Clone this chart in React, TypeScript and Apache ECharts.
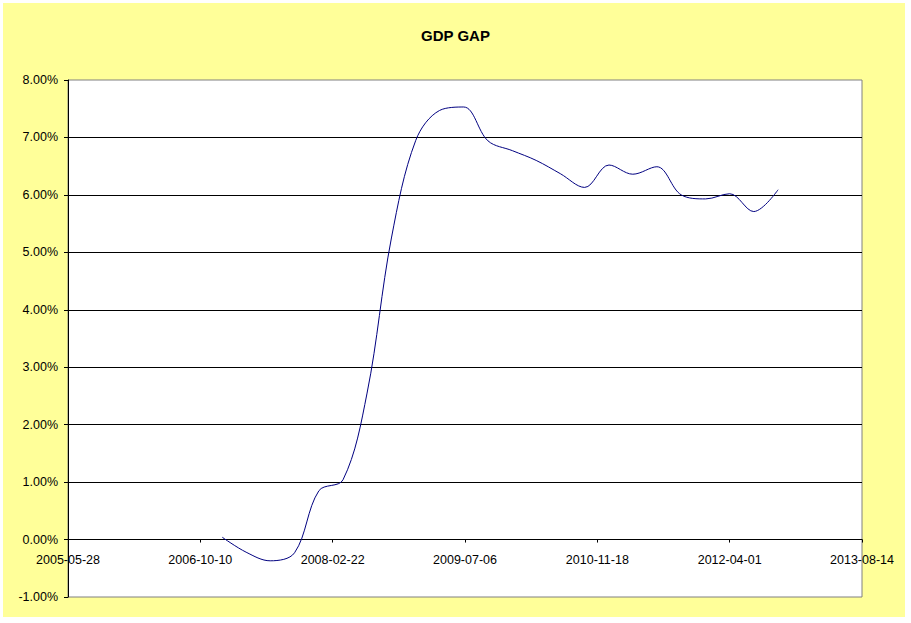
import React, { useEffect, useRef } from 'react';
import * as echarts from 'echarts';

// quarterly observations (start of quarter)
const quarters: string[] = [
    '2007-01-01', '2007-04-01', '2007-07-01', '2007-10-01',
    '2008-01-01', '2008-04-01', '2008-07-01', '2008-10-01',
    '2009-01-01', '2009-04-01', '2009-07-01', '2009-10-01',
    '2010-01-01', '2010-04-01', '2010-07-01', '2010-10-01',
    '2011-01-01', '2011-04-01', '2011-07-01', '2011-10-01',
    '2012-01-01', '2012-04-01', '2012-07-01', '2012-10-01',
];

// GDP gap, percent
const gdpGap: number[] = [
    0.04, -0.22, -0.37, -0.23,
    0.85, 1.04, 2.55, 5.25,
    6.95, 7.47, 7.53, 6.94,
    6.77, 6.6, 6.37, 6.13,
    6.52, 6.36, 6.49, 6.0,
    5.93, 6.02, 5.71, 6.09,
];

// x axis runs on Excel date serials, every 500 days
const xMin = 38500; // 2005-05-28
const xMax = 41500; // 2013-08-14
const xStep = 500;

const yMin = -1;
const yMax = 8;
const yStep = 1;

const EXCEL_EPOCH = Date.UTC(1899, 11, 30);
const DAY = 86400000;

const toSerial = (iso: string) => {
    const [y, m, d] = iso.split('-').map(Number);
    return Math.round((Date.UTC(y, m - 1, d) - EXCEL_EPOCH) / DAY);
};

const fromSerial = (serial: number) => {
    const dt = new Date(EXCEL_EPOCH + serial * DAY);
    const mm = String(dt.getUTCMonth() + 1).padStart(2, '0');
    const dd = String(dt.getUTCDate()).padStart(2, '0');
    return `${dt.getUTCFullYear()}-${mm}-${dd}`;
};

const FONT = 'Arial, "Liberation Sans", sans-serif';

const GRID_H = 517;

const App: React.FC = () => {
    const chartRef = useRef<HTMLDivElement>(null);

    useEffect(() => {
        const chartDom = chartRef.current!;
        const myChart = echarts.init(chartDom, undefined, { renderer: 'svg' });

        // the date axis crosses the value axis at 0
        const zeroOffset = -(GRID_H * (0 - yMin)) / (yMax - yMin);

        const option: echarts.EChartsOption = {
            animation: false,
            backgroundColor: '#ffffff',
            graphic: [
                {
                    type: 'rect',
                    z: -10,
                    silent: true,
                    shape: { x: 3, y: 3, width: 902, height: 614 },
                    style: { fill: '#FFFF99' },
                },
            ],
            title: {
                text: 'GDP GAP',
                left: 'center',
                top: 23,
                textStyle: { fontFamily: FONT, fontSize: 15, fontWeight: 'bold', color: '#000' },
            },
            grid: {
                left: 68,
                top: 80,
                width: 794,
                height: GRID_H,
                show: true,
                backgroundColor: '#ffffff',
                borderColor: '#808080',
                borderWidth: 1,
            },
            xAxis: {
                type: 'value',
                min: xMin,
                max: xMax,
                interval: xStep,
                offset: zeroOffset,
                axisLine: { show: true, onZero: false, lineStyle: { color: '#000', width: 1 } },
                axisTick: { show: true, length: 3, lineStyle: { color: '#000' } },
                splitLine: { show: false },
                axisLabel: {
                    color: '#000',
                    fontFamily: FONT,
                    fontSize: 12.5,
                    margin: 14,
                    showMinLabel: true,
                    showMaxLabel: true,
                    formatter: (v: number) => fromSerial(v),
                },
            },
            yAxis: {
                type: 'value',
                min: yMin,
                max: yMax,
                interval: yStep,
                axisLine: { show: true, lineStyle: { color: '#000', width: 1 } },
                axisTick: { show: true, length: 4, lineStyle: { color: '#000' } },
                splitLine: {
                    show: true,
                    showMinLine: false,
                    showMaxLine: false,
                    lineStyle: { color: '#000', width: 1 },
                },
                axisLabel: {
                    color: '#000',
                    fontFamily: FONT,
                    fontSize: 12.5,
                    margin: 10,
                    formatter: (v: number) => v.toFixed(2) + '%',
                },
            },
            series: [
                {
                    type: 'line',
                    data: quarters.map((q, i) => [toSerial(q), gdpGap[i]]),
                    showSymbol: false,
                    smooth: 0.35,
                    lineStyle: { color: '#000080', width: 1 },
                },
            ],
        };

        myChart.setOption(option);

        return () => {
            myChart.dispose();
        };
    }, []);

    return (
        <div
            ref={chartRef}
            style={{ position: 'absolute', left: 0, top: 0, width: 911, height: 623 }}
        />
    );
};

export default App;
